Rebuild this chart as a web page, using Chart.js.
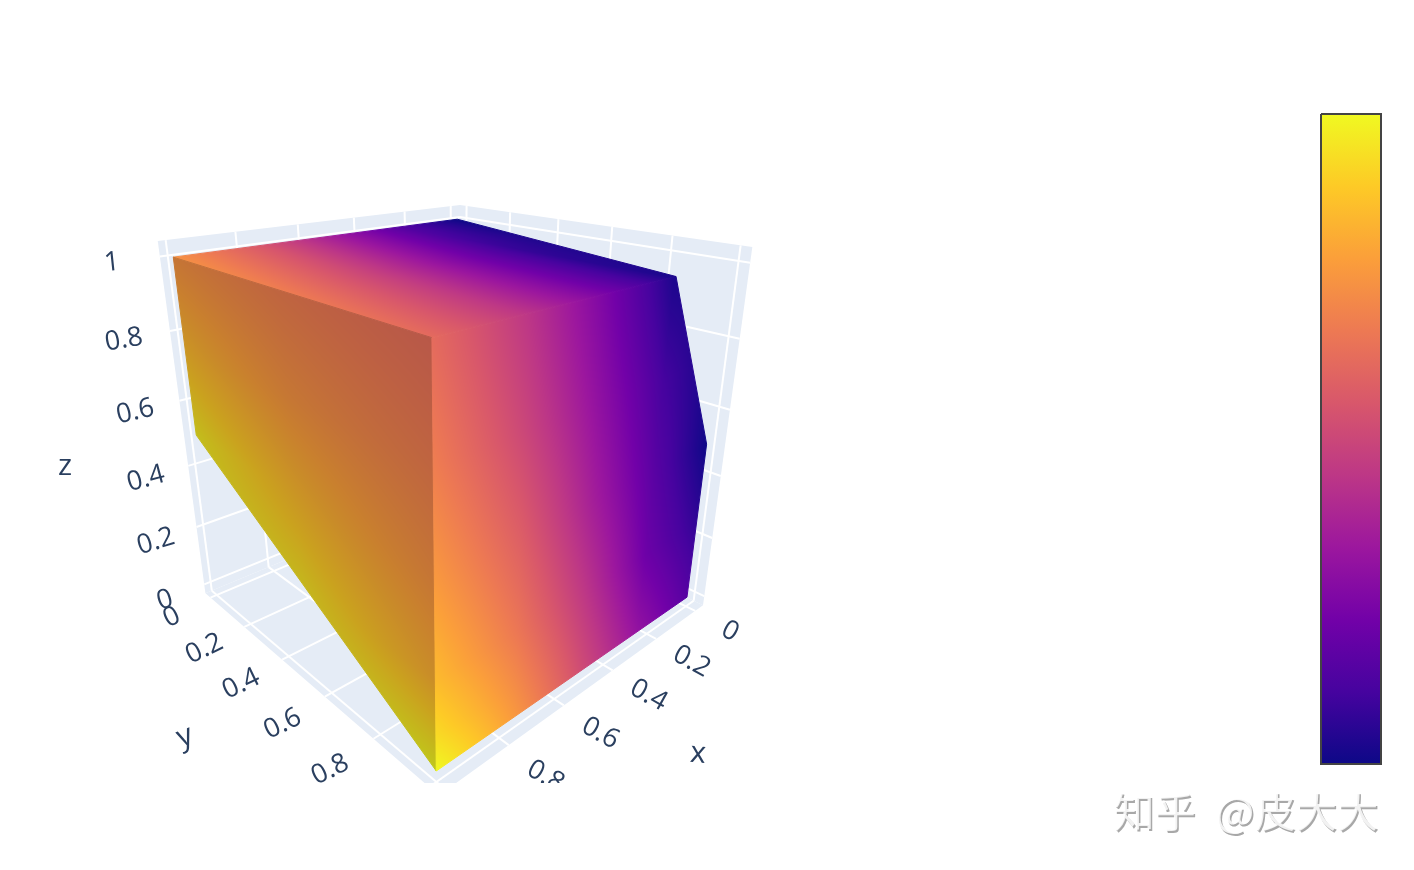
<!DOCTYPE html>
<html><head><meta charset="utf-8">
<style>html,body{margin:0;padding:0;background:#fff}#w{width:1414px;height:870px;position:relative}canvas{display:block}</style>
<script src="https://cdn.jsdelivr.net/npm/chart.js@4"></script>
</head><body><div id="w"><canvas id="c" width="1414" height="870"></canvas></div>
<script>
// ---- data ----
const xTicks=[0,0.2,0.4,0.6,0.8,1];
const yTicks=[0,0.2,0.4,0.6,0.8,1];
const zTicks=[0,0.2,0.4,0.6,0.8,1];
const tickText=['0','0.2','0.4','0.6','0.8','1'];
const plasma=['#0d0887','#46039f','#7201a8','#9c179e','#bd3786','#d8576b','#ed7953','#fb9f3a','#fdca26','#f0f921'];
// solid outline (x,y,z)
const topOutline=[[1,0,1],[0,0,1],[0.24,1,1],[1,1,1]];
const leftOutline=[[1,0,1],[1,1,1],[1,1,0],[1,0,0.5]];
const rightOutline=[[1,1,1],[0.24,1,1],[0,1,0.5],[0,1,0],[1,1,0]];
// surface values on each face
const rightX=[0,0.25,0.5,0.75,1];
const rightZ=[1,0.75,0.5,0.25,0.1,0];
const rightValues=[
 [0,0.03,0.24,0.44,0.62],
 [0,0.11,0.30,0.50,0.68],
 [0,0.16,0.36,0.58,0.76],
 [0.07,0.21,0.44,0.66,0.85],
 [0.12,0.27,0.49,0.72,0.93],
 [0.15,0.31,0.52,0.76,1]];
const topX=[0,0.25,0.5,0.75,1];
const topY=[0,0.5,1];
const topValues=[
 [0,0.15,0.35,0.56,0.74],
 [0,0.08,0.28,0.49,0.68],
 [0,0.03,0.24,0.44,0.62]];
const leftY=[0,0.5,1];
const leftZ=[1,0.75,0.5,0.25,0];
const leftValues=[
 [0.74,0.68,0.63],
 [0.85,0.75,0.68],
 [0.97,0.85,0.74],
 [1,0.95,0.82],
 [1,1,1]];
const leftShade=0.8;
// ---- camera and layout ----
const INK='#2a3f5f', WALL='#E5ECF6';
const BOX={x:[0.04,0.94],y:[0.03,0.94],z:[0.03,0.933]};
function homog(x,y,z){const X=BOX.x[0]+BOX.x[1]*x,Y=BOX.y[0]+BOX.y[1]*y,Z=BOX.z[0]+BOX.z[1]*z-1;
 return [460-340.1*X+98.6*Y-66.3*Z, 205-21.84*X-21.63*Y-354.6*Z, 1-0.24*X-0.2575*Y-0.1464*Z];}
function project(x,y,z){const h=homog(x,y,z);return {x:h[0]/h[2],y:h[1]/h[2]};}
const lo=a=>(0-BOX[a][0])/BOX[a][1], hi=a=>(1-BOX[a][0])/BOX[a][1];
const xl=lo('x'),xh=hi('x'),yl=lo('y'),yh=hi('y'),zl=lo('z'),zh=hi('z');
const W=1414,H=870,CLIP_Y=783;

function rgb(h){return [parseInt(h.slice(1,3),16),parseInt(h.slice(3,5),16),parseInt(h.slice(5,7),16)];}
function cmap(v){v=Math.max(0,Math.min(1,v));const p=v*(plasma.length-1),i=Math.min(plasma.length-2,Math.floor(p)),f=p-i;
 const a=rgb(plasma[i]),b=rgb(plasma[i+1]);return [a[0]+(b[0]-a[0])*f,a[1]+(b[1]-a[1])*f,a[2]+(b[2]-a[2])*f];}
function locate(g,t){
 const desc=g[0]>g[g.length-1];
 for(let i=0;i<g.length-1;i++){const a=g[i],b=g[i+1];
  if(desc?t>=b:t<=b){return [i,Math.max(0,Math.min(1,(t-a)/(b-a)))];}}
 return [g.length-2,1];}
function facePattern(toPoint,uG,vG,vals,shade,outline){
 const h0=homog(...toPoint(0,0)),hu=homog(...toPoint(1,0)),hv=homog(...toPoint(0,1));
 const a=hu[0]-h0[0],b=hv[0]-h0[0],c=h0[0],d=hu[1]-h0[1],e=hv[1]-h0[1],f=h0[1],g=hu[2]-h0[2],h=hv[2]-h0[2],i=h0[2];
 const A=e*i-f*h,B=c*h-b*i,C=b*f-c*e,D=f*g-d*i,E=a*i-c*g,F=c*d-a*f,G=d*h-e*g,I=b*g-a*h,J=a*e-b*d;
 const off=document.createElement('canvas');off.width=W;off.height=H;
 const ctx=off.getContext('2d');const pts=outline.map(p=>project(...p));
 const x0=Math.max(0,Math.floor(Math.min(...pts.map(p=>p.x)))-3),x1=Math.min(W,Math.ceil(Math.max(...pts.map(p=>p.x)))+3);
 const y0=Math.max(0,Math.floor(Math.min(...pts.map(p=>p.y)))-3),y1=Math.min(H,Math.ceil(Math.max(...pts.map(p=>p.y)))+3);
 const img=ctx.createImageData(x1-x0,y1-y0);let k=0;
 for(let py=y0;py<y1;py++)for(let px=x0;px<x1;px++){
  const w=G*px+I*py+J,u=(A*px+B*py+C)/w,v=(D*px+E*py+F)/w;
  const [ci,cf]=locate(uG,u),[ri,rf]=locate(vG,v);
  const val=(vals[ri][ci]*(1-cf)+vals[ri][ci+1]*cf)*(1-rf)+(vals[ri+1][ci]*(1-cf)+vals[ri+1][ci+1]*cf)*rf;
  const col=cmap(val);
  img.data[k++]=col[0]*shade;img.data[k++]=col[1]*shade;img.data[k++]=col[2]*shade;img.data[k++]=255;}
 ctx.putImageData(img,x0,y0);
 return document.getElementById('c').getContext('2d').createPattern(off,'no-repeat');}

const order=[];
function poly(pts3,fillStyle,bw){order.push({data:[...pts3,pts3[0]].map(p=>project(...p)),showLine:true,tension:0,pointRadius:0,fill:'shape',backgroundColor:fillStyle,borderColor:fillStyle,borderWidth:bw||0});}
function line(a,b){order.push({data:[project(...a),project(...b)],showLine:true,tension:0,pointRadius:0,fill:false,borderColor:'#fff',borderWidth:2});}
// walls
poly([[xl,yl,zl],[xl,yh,zl],[xl,yh,zh],[xl,yl,zh]],WALL);
poly([[xl,yl,zl],[xh,yl,zl],[xh,yl,zh],[xl,yl,zh]],WALL);
poly([[xl,yl,zl],[xh,yl,zl],[xh,yh,zl],[xl,yh,zl]],WALL);
// grid lines
yTicks.forEach(t=>{line([xl,t,zl],[xl,t,zh]);line([xl,t,zl],[xh,t,zl]);});
xTicks.forEach(t=>{line([t,yl,zl],[t,yl,zh]);line([t,yl,zl],[t,yh,zl]);});
zTicks.forEach(t=>{line([xl,yl,t],[xl,yh,t]);line([xl,yl,t],[xh,yl,t]);});
// faces
poly(topOutline,facePattern((u,v)=>[u,v,1],topX,topY,topValues,1,topOutline),1);
poly(leftOutline,facePattern((u,v)=>[1,u,v],leftY,leftZ,leftValues,leftShade,leftOutline),1);
poly(rightOutline,facePattern((u,v)=>[u,1,v],rightX,rightZ,rightValues,1,rightOutline),1);
// colour bar
const cbCtx=document.getElementById('c').getContext('2d');
const cbGrad=cbCtx.createLinearGradient(0,764,0,114);
plasma.forEach((c,i)=>cbGrad.addColorStop(i/(plasma.length-1),c));
order.push({data:[{x:1321,y:114},{x:1381,y:114},{x:1381,y:764},{x:1321,y:764},{x:1321,y:114}],showLine:true,tension:0,pointRadius:0,fill:'shape',backgroundColor:cbGrad,borderColor:'#444',borderWidth:2});
order.forEach((d,i)=>{d.order=order.length-i;});

const LABEL_OUT_Y=0.115, LABEL_OUT_X=0.125, LABEL_DROP=0.012;
const zRot=[-18,-17,-15,-13,-10,-6];
function text(ctx,s,p,deg,font){ctx.save();ctx.translate(p.x,p.y);ctx.rotate(deg*Math.PI/180);ctx.font=font;ctx.fillStyle=INK;ctx.textAlign='center';ctx.textBaseline='middle';ctx.fillText(s,0,0);ctx.restore();}
const scene={id:'scene',
 beforeDatasetsDraw(ch){const c=ch.ctx;c.save();c.beginPath();c.rect(0,0,W,CLIP_Y);c.clip();},
 afterDatasetsDraw(ch){const c=ch.ctx;
  const tf='27px "Open Sans"',hf='30px "Open Sans"';
  xTicks.forEach((t,i)=>text(c,tickText[i],project(t,yh+LABEL_OUT_Y,zl-LABEL_DROP),29,tf));
  yTicks.forEach((t,i)=>text(c,tickText[i],project(xh+LABEL_OUT_X,t,zl-LABEL_DROP),-26,tf));
  zTicks.forEach((t,i)=>text(c,tickText[i],project(xh+LABEL_OUT_X,yl,t),zRot[i],tf));
  text(c,'x',{x:698,y:754},5,hf);text(c,'y',{x:185,y:737},-20,hf);text(c,'z',{x:65,y:466},0,hf);
  c.restore();
  c.save();c.font='41px "Noto Sans CJK SC"';c.textAlign='left';c.textBaseline='middle';c.wordSpacing='10px';c.letterSpacing='0.3px';
  const s='知乎 @皮大大';
  c.fillStyle='#a8a8a8';c.fillText(s,1115,813);
  c.fillStyle='rgba(255,255,255,0.85)';c.fillText(s,1113.5,811.5);
  c.restore();}
};
new Chart(document.getElementById('c'),{type:'scatter',data:{datasets:order},plugins:[scene],options:{
 responsive:false,animation:false,devicePixelRatio:1,events:[],layout:{padding:0},
 scales:{x:{type:'linear',min:0,max:W,display:false},y:{type:'linear',min:0,max:H,reverse:true,display:false}},
 plugins:{legend:{display:false},tooltip:{enabled:false},title:{display:false}}}});
</script></body></html>
